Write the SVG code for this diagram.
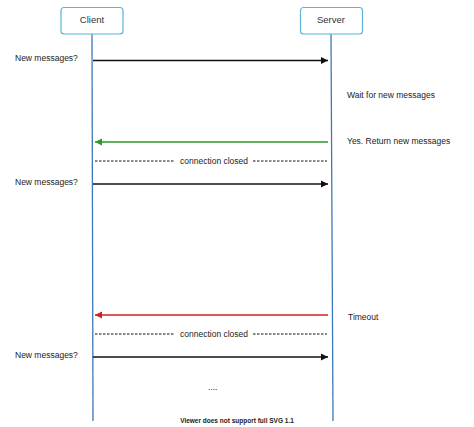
<svg xmlns="http://www.w3.org/2000/svg" width="474" height="427" viewBox="0 0 474 427">
<style>
.box{fill:#fff;stroke:#5ab4d6;stroke-width:1.2}
.life{stroke:#3f78b8;stroke-width:1.3;fill:none}
.t{font-family:"Liberation Sans",Arial,sans-serif;font-size:8.5px;fill:#222}
.h{font-family:"Liberation Sans",Arial,sans-serif;font-size:9.5px;fill:#333;text-anchor:middle}
.msg{stroke-width:1.3;fill:none}
.dash{stroke:#111;stroke-width:1;stroke-dasharray:2.5,1.5;fill:none}
</style>
<defs>
<marker id="ab" markerWidth="8" markerHeight="8" refX="7" refY="4" orient="auto" markerUnits="userSpaceOnUse"><path d="M0,0.5 L7,4 L0,7.5 z" fill="#111"/></marker>
<marker id="ag" markerWidth="8" markerHeight="8" refX="7" refY="4" orient="auto" markerUnits="userSpaceOnUse"><path d="M0,0.5 L7,4 L0,7.5 z" fill="#2a9a2a"/></marker>
<marker id="ar" markerWidth="8" markerHeight="8" refX="7" refY="4" orient="auto" markerUnits="userSpaceOnUse"><path d="M0,0.5 L7,4 L0,7.5 z" fill="#d02020"/></marker>
</defs>
<g id="client">
<line class="life" x1="92" y1="34" x2="93" y2="421"/>
<rect class="box" x="61" y="7.5" width="62" height="26.5" rx="3"/>
<text class="h" x="92" y="23">Client</text>
</g>
<g id="server">
<line class="life" x1="331" y1="34" x2="333" y2="421"/>
<rect class="box" x="300.5" y="7.5" width="62" height="26.5" rx="3"/>
<text class="h" x="331" y="23">Server</text>
</g>
<g id="connectors">
<line class="msg" x1="93" y1="60.5" x2="328" y2="60.5" stroke="#111" marker-end="url(#ab)"/>
<line class="msg" x1="328" y1="142" x2="95" y2="142" stroke="#2a9a2a" marker-end="url(#ag)"/>
<line class="dash" x1="95" y1="161" x2="174" y2="161"/>
<line class="dash" x1="253" y1="161" x2="327" y2="161"/>
<line class="msg" x1="93" y1="184" x2="328" y2="184" stroke="#111" marker-end="url(#ab)"/>
<line class="msg" x1="328" y1="315" x2="95" y2="315" stroke="#d02020" marker-end="url(#ar)"/>
<line class="dash" x1="95" y1="334" x2="174" y2="334"/>
<line class="dash" x1="253" y1="334" x2="327" y2="334"/>
<line class="msg" x1="93" y1="357" x2="328" y2="357" stroke="#111" marker-end="url(#ab)"/>
</g>
<g id="labels">
<text class="t" x="15" y="61">New messages?</text>
<text class="t" x="347" y="98">Wait for new messages</text>
<text class="t" x="347" y="144">Yes. Return new messages</text>
<text class="t" x="180" y="164">connection closed</text>
<text class="t" x="15" y="185">New messages?</text>
<text class="t" x="348" y="320">Timeout</text>
<text class="t" x="180" y="337">connection closed</text>
<text class="t" x="15" y="358">New messages?</text>
<text class="t" x="208" y="390">....</text>
<text x="237" y="423" font-family="Liberation Sans,Arial,sans-serif" font-size="6.5" font-weight="bold" text-anchor="middle" fill="#222">Viewer does not support full SVG 1.1</text>
</g>
</svg>
